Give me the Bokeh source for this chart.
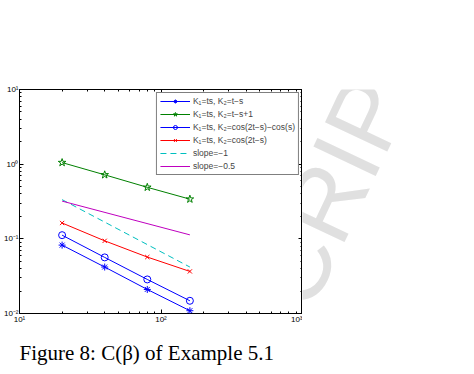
from bokeh.plotting import figure
from bokeh.layouts import row
from bokeh.models import Range1d, LogAxis, Legend, LegendItem, Label, FixedTicker, Title
from bokeh.embed import file_html
from bokeh.resources import INLINE

# data
N = [20, 40, 80, 160]
err_ts_tms = [0.0824, 0.0419, 0.0210, 0.0109]
err_ts_tms1 = [1.05, 0.72, 0.49, 0.34]
err_ts_cos_diff = [0.112, 0.0564, 0.0286, 0.0148]
err_ts_cos = [0.163, 0.094, 0.057, 0.0366]
slope1_x = [20, 160]
slope1_y = [0.335, 0.0419]
slope05_x = [20, 160]
slope05_y = [0.32, 0.113]

labels = [
    "K\u2081=ts, K\u2082=t\u2212s",
    "K\u2081=ts, K\u2082=t\u2212s+1",
    "K\u2081=ts, K\u2082=cos(2t\u2212s)\u2212cos(s)",
    "K\u2081=ts, K\u2082=cos(2t\u2212s)",
    "slope=\u22121",
    "slope=\u22120.5",
]
x_ticks = [10, 100, 1000]
x_tick_labels = ["10\u00b9", "10\u00b2", "10\u00b3"]
y_ticks = [0.01, 0.1, 1, 10]
y_tick_labels = ["10\u207b\u00b2", "10\u207b\u00b9", "10\u2070", "10\u00b9"]
caption = "Figure 8: C(\u03b2) of Example 5.1"
watermark = "ACCEPTED MANUSCRIPT"

FONT = "Liberation Sans"

def minors(majors):
    out = []
    for m in majors[:-1]:
        out += [m * k for k in range(2, 10)]
    return out

p = figure(frame_width=283, frame_height=224, x_axis_type="log", y_axis_type="log",
           x_range=Range1d(10, 1000), y_range=Range1d(0.01, 10),
           output_backend="svg", toolbar_location=None,
           min_border_left=0, min_border_right=0, min_border_top=89, min_border_bottom=61)
p.grid.visible = False
p.outline_line_color = "black"
p.outline_line_width = 1
p.background_fill_color = "white"
p.border_fill_color = "white"

xt = FixedTicker(ticks=x_ticks, minor_ticks=minors(x_ticks))
yt = FixedTicker(ticks=y_ticks, minor_ticks=minors(y_ticks))

def style_axis(ax):
    ax.axis_line_color = None
    ax.major_tick_in = 4
    ax.major_tick_out = 0
    ax.minor_tick_in = 2
    ax.minor_tick_out = 0
    ax.major_tick_line_color = "black"
    ax.minor_tick_line_color = "black"
    ax.major_label_text_font = FONT
    ax.major_label_text_font_size = "8px"
    ax.major_label_text_color = "black"
    ax.major_label_standoff = 1

p.xaxis.ticker = xt
p.yaxis.ticker = yt
p.xaxis.major_label_overrides = {t: l for t, l in zip(x_ticks, x_tick_labels)}
p.yaxis.major_label_overrides = {t: l for t, l in zip(y_ticks, y_tick_labels)}
for ax in p.xaxis + p.yaxis:
    style_axis(ax)

top = LogAxis(ticker=xt)
right = LogAxis(ticker=yt)
for ax, ticks in ((top, x_ticks), (right, y_ticks)):
    style_axis(ax)
    ax.major_label_overrides = {t: "" for t in ticks}
    ax.major_label_standoff = 0
p.add_layout(top, "above")
p.add_layout(right, "right")

items = []
def series(x, y, color, marker, label, dash="solid", size=7):
    r1 = p.line(x, y, line_color=color, line_width=1, line_dash=dash)
    rs = [r1]
    if marker is not None:
        r2 = p.scatter(x, y, marker=marker, size=size, line_color=color,
                       fill_alpha=0, line_width=1)
        rs.append(r2)
    items.append(LegendItem(label=label, renderers=rs))

series(N, err_ts_tms, "#0000ff", "asterisk", labels[0])
series(N, err_ts_tms1, "#008000", "star", labels[1], size=8)
series(N, err_ts_cos_diff, "#0000ff", "circle", labels[2])
series(N, err_ts_cos, "#ff0000", "x", labels[3], size=6)
series(slope1_x, slope1_y, "#00bfbf", None, labels[4], dash="6 4")
series(slope05_x, slope05_y, "#bf00bf", None, labels[5])

legend = Legend(items=items, location="top_right")
legend.label_text_font = FONT
legend.label_text_font_size = "8.5px"
legend.label_height = 10
legend.glyph_height = 10
legend.glyph_width = 30
legend.spacing = 3
legend.padding = 3
legend.margin = 3
legend.label_standoff = 3
legend.border_line_color = "black"
legend.border_line_width = 1
legend.background_fill_alpha = 1
p.add_layout(legend, "center")

cap = Title(text=caption, align="left", text_font="Liberation Serif",
            text_font_size="21px", text_font_style="normal", text_color="black",
            standoff=25)
p.add_layout(cap, "below")

side = figure(width=170, height=374, x_range=Range1d(0, 1), y_range=Range1d(0, 1),
              output_backend="svg", toolbar_location=None,
              x_axis_location=None, y_axis_location=None, min_border=0)
side.grid.visible = False
side.outline_line_color = None
side.border_fill_color = "white"
wm = Label(x=104, y=282, x_units="screen", y_units="screen", text=watermark,
           angle=1.13, text_align="right", text_baseline="alphabetic",
           text_font=FONT, text_font_size="100px", text_color="#e0e0e0")
side.add_layout(wm)

layout = row(p, side, spacing=0)
open("out.html", "w").write(file_html(layout, INLINE))
